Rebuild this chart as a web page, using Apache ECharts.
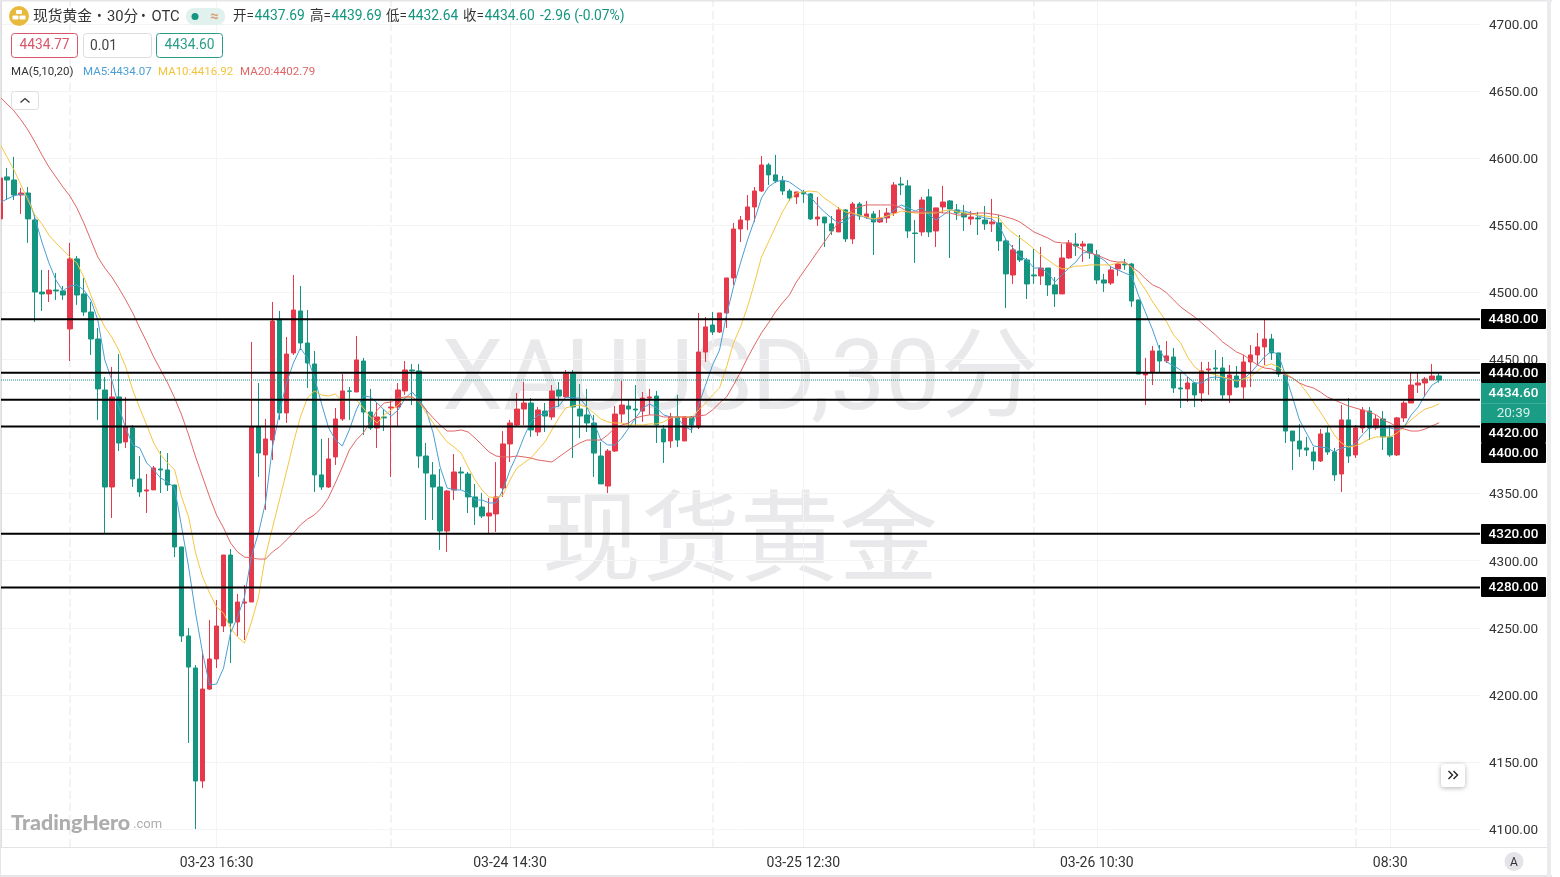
<!DOCTYPE html>
<html>
<head>
<meta charset="utf-8">
<title>现货黄金 30分</title>
<style>
  html, body { margin: 0; padding: 0; background: #fff; }
  #main { width: 1560px; height: 877px; }
</style>
<script src="https://cdn.jsdelivr.net/npm/echarts@6/dist/echarts.min.js"></script>
</head>
<body>
<div id="main"></div>
<script>
// [open, close, low, high]
const candles = [
  [4554.7,4585.2,4554.7,4585.2],[4586.0,4583.7,4568.8,4592.7],[4583.7,4572.5,4568.8,4600.9],[4572.5,4574.0,4558.4,4577.8],
  [4574.0,4554.7,4536.8,4578.5],[4553.9,4500.2,4477.9,4557.6],[4500.2,4498.8,4486.1,4516.7],[4498.8,4501.7,4492.8,4516.7],
  [4501.7,4501.0,4494.3,4514.4],[4501.0,4498.0,4494.3,4504.7],[4472.7,4524.9,4448.8,4536.8],[4524.9,4498.0,4490.6,4527.1],
  [4498.8,4485.3,4482.4,4510.7],[4485.3,4465.2,4453.3,4492.8],[4465.2,4428.0,4404.9,4473.4],[4427.2,4354.9,4320.6,4436.9],
  [4354.9,4422.0,4331.8,4444.4],[4422.0,4387.7,4381.7,4454.0],[4388.5,4399.6,4384.0,4422.0],[4398.9,4360.9,4354.9,4401.1],
  [4360.9,4351.2,4347.5,4378.0],[4351.9,4352.7,4335.5,4364.6],[4352.7,4369.1,4352.7,4370.6],[4368.3,4367.6,4350.4,4381.7],
  [4367.6,4356.4,4351.9,4380.2],[4356.4,4310.2,4302.7,4356.4],[4310.2,4243.9,4239.4,4310.2],[4243.9,4220.7,4164.1,4249.8],
  [4220.0,4135.8,4100.0,4222.2],[4135.8,4204.3,4130.6,4232.7],[4204.3,4226.7,4203.6,4255.8],[4226.7,4251.3,4220.0,4270.7],
  [4251.3,4304.2,4246.8,4304.2],[4304.2,4253.5,4223.7,4308.7],[4254.3,4269.2,4243.9,4275.2],[4268.4,4269.2,4240.9,4281.9],
  [4269.2,4399.6,4269.2,4463.0],[4399.6,4380.2,4362.4,4432.4],[4378.8,4390.7,4337.8,4405.6],[4389.9,4478.6,4375.0,4492.8],
  [4480.1,4410.1,4404.9,4486.1],[4410.1,4454.0,4402.6,4466.7],[4454.8,4486.8,4453.3,4512.9],[4486.1,4462.2,4457.0,4504.7],
  [4462.2,4447.3,4428.7,4486.8],[4446.6,4363.9,4351.2,4456.3],[4363.9,4354.9,4352.7,4390.7],[4354.9,4375.8,4354.2,4391.4],
  [4377.3,4405.6,4371.3,4413.8],[4405.6,4426.5,4404.1,4439.1],[4426.5,4426.2,4404.9,4429.4],[4425.7,4449.6,4425.7,4467.5],
  [4448.8,4410.8,4393.7,4451.1],[4410.8,4398.9,4397.4,4428.0],[4398.9,4407.1,4384.0,4417.5],[4407.1,4406.4,4396.6,4413.0],
  [4413.8,4414.5,4362.4,4419.0],[4414.5,4427.2,4399.6,4432.4],[4426.5,4442.1,4423.5,4448.8],[4442.1,4441.4,4416.0,4446.6],
  [4441.4,4378.0,4369.1,4446.6],[4378.0,4365.3,4330.3,4387.7],[4363.9,4354.9,4330.3,4373.5],[4354.9,4322.1,4308.0,4368.3],
  [4322.1,4351.9,4306.5,4352.7],[4352.7,4366.1,4345.2,4379.5],[4366.1,4365.3,4352.7,4369.8],[4364.6,4347.5,4335.5,4366.1],
  [4347.5,4340.0,4326.6,4357.2],[4340.0,4333.3,4331.8,4350.4],[4333.3,4335.5,4320.6,4346.7],[4334.8,4347.5,4321.4,4373.5],
  [4354.2,4387.0,4347.5,4396.6],[4387.0,4402.6,4373.5,4404.9],[4401.1,4413.0,4399.6,4425.0],[4413.0,4417.5,4401.1,4433.2],
  [4417.5,4397.4,4392.2,4421.2],[4395.9,4412.3,4392.9,4414.5],[4411.5,4407.8,4395.9,4417.5],[4407.1,4426.5,4404.9,4430.9],
  [4427.2,4422.7,4414.5,4433.2],[4422.0,4439.1,4421.2,4442.1],[4439.1,4414.5,4376.5,4442.1],[4413.0,4407.8,4391.4,4431.7],
  [4408.6,4402.6,4395.9,4428.0],[4402.6,4380.2,4362.4,4408.6],[4378.0,4357.2,4357.2,4388.5],[4355.6,4381.7,4350.4,4383.2],
  [4381.7,4409.3,4381.0,4415.3],[4409.3,4416.0,4402.6,4433.9],[4415.3,4413.0,4399.6,4419.8],[4413.0,4412.3,4401.1,4430.9],
  [4411.5,4421.2,4403.4,4425.7],[4421.2,4422.0,4408.6,4428.0],[4422.7,4401.1,4387.7,4426.5],[4398.1,4388.5,4372.8,4401.1],
  [4389.2,4407.1,4384.0,4410.1],[4407.1,4389.9,4384.7,4423.5],[4389.2,4407.1,4389.2,4407.8],[4407.1,4401.1,4395.2,4407.8],
  [4399.6,4455.5,4398.1,4484.6],[4455.5,4474.2,4448.1,4481.6],[4475.6,4470.4,4468.2,4485.3],[4470.4,4484.6,4469.7,4484.6],
  [4484.6,4510.7,4473.4,4510.7],[4510.7,4547.2,4505.5,4551.7],[4547.2,4553.9,4537.5,4556.9],[4553.9,4563.6,4546.5,4572.5],
  [4563.6,4575.5,4552.4,4578.5],[4575.5,4594.9,4574.8,4601.6],[4594.9,4587.5,4580.0,4596.4],[4587.5,4583.0,4581.5,4602.4],
  [4583.0,4575.5,4572.5,4586.7],[4575.5,4570.3,4568.1,4577.0],[4571.1,4574.8,4565.8,4574.8],[4574.8,4573.3,4566.6,4576.3],
  [4573.3,4554.7,4553.9,4574.0],[4554.7,4556.1,4549.5,4571.1],[4556.1,4551.7,4533.8,4556.1],[4551.0,4545.7,4542.7,4556.9],
  [4545.0,4561.4,4545.0,4563.6],[4561.4,4539.8,4537.5,4562.1],[4539.8,4565.8,4536.0,4567.3],[4565.8,4556.9,4553.9,4567.3],
  [4556.1,4558.4,4554.7,4568.1],[4558.4,4552.4,4527.8,4560.6],[4552.4,4555.4,4551.7,4561.4],[4555.4,4559.1,4551.7,4562.9],
  [4559.1,4580.0,4556.9,4582.2],[4580.7,4580.0,4572.5,4586.0],[4579.3,4545.7,4540.5,4583.7],[4544.2,4543.8,4521.9,4553.9],
  [4545.0,4568.8,4542.0,4571.1],[4571.1,4545.0,4541.2,4577.0],[4545.7,4562.9,4533.8,4562.9],[4563.6,4567.3,4559.1,4579.3],
  [4568.1,4562.1,4525.6,4568.8],[4561.4,4559.1,4553.9,4565.8],[4559.1,4556.1,4545.7,4565.1],[4554.7,4556.1,4550.2,4560.6],
  [4555.4,4554.7,4542.7,4559.9],[4553.9,4551.0,4546.5,4564.3],[4551.0,4552.4,4545.0,4569.6],[4551.7,4538.3,4530.8,4557.6],
  [4538.3,4513.7,4488.3,4540.5],[4512.9,4531.6,4506.2,4535.3],[4530.8,4524.1,4522.6,4542.7],[4524.1,4506.2,4495.0,4525.6],
  [4512.9,4512.2,4506.2,4532.3],[4512.2,4518.1,4505.5,4533.8],[4518.1,4505.5,4497.3,4518.1],[4505.5,4498.8,4489.1,4511.4],
  [4498.8,4525.6,4498.8,4536.0],[4525.6,4536.8,4524.9,4539.0],[4536.0,4534.5,4527.1,4544.2],[4534.5,4536.0,4522.6,4538.3],
  [4536.0,4529.3,4524.9,4536.0],[4527.8,4509.2,4506.2,4531.6],[4509.2,4506.9,4500.2,4513.7],[4506.9,4516.7,4505.5,4519.6],
  [4517.4,4521.1,4512.2,4521.9],[4521.1,4520.4,4516.7,4524.9],[4521.1,4493.5,4489.1,4521.9],[4494.3,4439.1,4439.1,4494.3],
  [4438.4,4439.9,4416.0,4451.1],[4440.6,4456.3,4430.9,4460.0],[4456.3,4448.8,4439.9,4460.7],[4448.8,4452.6,4447.3,4463.7],
  [4451.8,4428.7,4425.0,4458.5],[4428.7,4428.0,4413.8,4439.9],[4428.0,4432.4,4418.3,4436.9],[4432.4,4423.5,4414.5,4433.2],
  [4425.0,4441.4,4418.3,4448.1],[4442.1,4442.9,4423.5,4448.1],[4443.6,4442.9,4434.7,4457.0],[4443.6,4423.5,4419.8,4451.8],
  [4423.5,4438.4,4417.5,4445.8],[4437.6,4429.4,4428.7,4445.1],[4429.4,4448.1,4420.5,4453.3],[4448.1,4453.3,4429.4,4460.7],
  [4453.3,4459.3,4445.8,4469.7],[4459.3,4465.2,4445.8,4479.4],[4465.2,4454.8,4449.6,4469.0],[4454.8,4439.1,4436.9,4454.8],
  [4438.4,4396.6,4387.7,4438.4],[4396.6,4389.2,4367.6,4396.6],[4389.2,4383.2,4377.3,4401.9],[4384.0,4382.5,4378.0,4392.2],
  [4381.0,4374.3,4367.6,4384.7],[4374.3,4394.4,4373.5,4398.1],[4395.2,4381.0,4378.8,4399.6],[4381.0,4363.9,4359.4,4384.0],
  [4364.6,4404.9,4351.2,4416.0],[4404.9,4378.0,4372.8,4421.2],[4378.8,4398.9,4376.5,4401.1],[4398.9,4412.3,4395.2,4414.5],
  [4411.5,4398.9,4389.9,4414.5],[4398.9,4405.6,4397.4,4408.6],[4405.6,4392.2,4382.5,4411.5],[4392.2,4378.8,4377.3,4401.1],
  [4378.8,4406.4,4378.0,4407.1],[4406.4,4417.5,4403.4,4419.0],[4417.5,4430.9,4417.5,4439.9],[4430.9,4432.4,4425.0,4439.9],
  [4432.4,4435.4,4422.0,4436.9],[4434.7,4437.6,4434.7,4446.6],[4437.69,4434.60,4432.64,4439.69]
];

const ma5 = [
  4566.6,4569.6,4571.8,4573.3,4571.8,4555.4,4537.5,4521.9,4509.2,4501.0,4504.7,4505.5,4501.7,4494.3,4479.4,4449.6,
  4434.7,4414.5,4398.9,4386.2,4384.0,4372.8,4367.6,4361.6,4358.6,4354.2,4325.1,4295.3,4261.0,4231.2,4207.3,4208.1,
  4220.0,4246.1,4258.0,4272.9,4303.5,4320.6,4343.0,4384.7,4410.1,4432.4,4447.3,4458.5,4451.1,4436.9,4417.5,4399.6,
  4389.9,4385.5,4397.4,4412.3,4422.7,4422.0,4417.5,4412.3,4407.8,4412.3,4421.2,4425.7,4419.8,4412.3,4395.2,4369.8,
  4354.2,4352.7,4352.7,4350.4,4345.2,4345.2,4343.0,4343.0,4352.7,4367.6,4378.8,4392.2,4403.4,4408.6,4409.3,4413.8,
  4415.3,4422.0,4421.2,4421.2,4414.5,4403.4,4389.9,4386.2,4386.2,4391.4,4398.9,4406.4,4413.8,4416.8,4413.8,4408.6,
  4407.1,4406.4,4399.6,4397.4,4416.0,4430.9,4445.8,4457.0,4483.1,4504.0,4521.9,4539.0,4553.9,4570.3,4578.5,4582.2,
  4583.7,4582.2,4578.5,4574.8,4571.1,4565.1,4559.9,4555.4,4551.7,4552.4,4557.6,4557.6,4555.4,4553.9,4553.9,4556.9,
  4561.4,4565.1,4562.9,4560.6,4562.9,4557.6,4553.9,4557.6,4561.4,4560.6,4560.6,4559.1,4556.9,4555.4,4554.7,4550.2,
  4539.0,4533.0,4526.3,4524.1,4518.1,4518.1,4514.4,4507.7,4512.9,4518.1,4522.6,4529.3,4530.1,4527.1,4524.1,4518.9,
  4516.7,4514.4,4512.2,4497.3,4484.6,4471.9,4457.0,4448.1,4445.1,4442.1,4436.9,4432.4,4432.4,4436.1,4436.9,4436.1,
  4435.4,4434.7,4435.4,4439.9,4445.8,4451.8,4456.3,4453.3,4438.4,4422.0,4404.9,4395.2,4385.5,4384.7,4384.0,4381.0,
  4384.0,4384.7,4387.0,4393.7,4398.9,4399.6,4398.9,4398.9,4397.4,4399.6,4408.6,4414.5,4423.5,4430.9,4434.07
];

const ma10 = [
  4610.6,4600.9,4591.2,4580.0,4568.8,4557.6,4551.0,4542.7,4536.8,4531.6,4526.3,4521.9,4511.4,4498.0,4484.6,4474.2,
  4466.7,4457.0,4444.4,4427.2,4413.8,4401.1,4387.7,4378.8,4372.8,4367.6,4347.5,4332.5,4305.7,4287.8,4275.9,4265.5,
  4261.0,4249.8,4243.1,4238.6,4254.3,4272.9,4303.5,4324.4,4345.2,4366.1,4387.7,4407.1,4421.2,4426.5,4423.5,4422.7,
  4424.2,4419.0,4420.5,4419.8,4413.8,4407.1,4402.6,4408.6,4412.3,4416.0,4422.0,4422.0,4418.3,4410.1,4402.6,4395.2,
  4388.5,4384.7,4380.2,4369.8,4360.1,4352.7,4347.5,4346.7,4348.9,4360.1,4369.1,4372.8,4376.5,4382.5,4388.5,4397.4,
  4406.4,4413.8,4415.3,4416.0,4414.5,4410.1,4405.6,4403.4,4402.6,4402.6,4401.1,4401.1,4401.1,4401.9,4401.9,4403.4,
  4406.4,4407.1,4407.1,4406.4,4412.3,4417.5,4423.5,4428.7,4444.4,4462.2,4474.2,4489.1,4506.9,4526.3,4537.5,4548.7,
  4559.9,4568.8,4574.0,4574.8,4575.5,4574.8,4570.3,4566.6,4562.9,4559.9,4559.1,4557.6,4556.1,4554.7,4555.4,4556.9,
  4558.4,4560.6,4559.9,4559.1,4559.1,4559.1,4559.1,4560.6,4561.4,4559.9,4559.1,4558.4,4557.6,4556.9,4556.1,4555.4,
  4548.7,4544.2,4540.5,4536.8,4532.3,4527.8,4524.1,4520.4,4517.4,4518.1,4519.6,4519.6,4520.4,4520.4,4520.4,4520.4,
  4521.9,4521.9,4518.9,4509.2,4501.7,4492.8,4485.3,4477.9,4468.2,4462.2,4451.8,4444.4,4440.6,4439.9,4438.4,4436.9,
  4435.4,4433.9,4435.4,4436.9,4441.4,4445.1,4446.6,4444.4,4439.9,4436.1,4432.4,4425.7,4418.3,4410.8,4402.6,4393.7,
  4387.7,4384.7,4385.5,4387.7,4390.7,4392.2,4392.2,4392.2,4395.2,4399.6,4404.9,4409.3,4413.0,4414.5,4416.92
];

const ma20 = [
  4645.6,4640.4,4635.2,4628.5,4621.0,4612.0,4602.4,4593.4,4586.0,4578.5,4571.8,4562.9,4551.7,4539.0,4526.3,4518.1,
  4511.4,4503.2,4494.3,4484.6,4473.4,4463.0,4451.8,4442.1,4432.4,4421.2,4408.6,4393.7,4377.3,4362.4,4347.5,4334.0,
  4324.4,4313.2,4306.5,4302.7,4302.0,4301.2,4301.2,4306.5,4310.2,4315.4,4320.6,4326.6,4331.0,4334.0,4339.3,4346.7,
  4357.9,4369.8,4382.5,4389.9,4395.2,4403.4,4412.3,4417.5,4418.3,4421.2,4422.0,4422.0,4418.3,4412.3,4406.4,4401.1,
  4396.6,4396.6,4397.4,4395.9,4391.4,4386.2,4381.0,4378.0,4377.3,4377.3,4378.0,4377.3,4376.5,4375.0,4374.3,4373.5,
  4377.3,4381.0,4384.7,4387.7,4389.9,4389.9,4389.9,4393.7,4398.9,4401.1,4402.6,4406.4,4407.8,4408.6,4408.6,4407.1,
  4407.1,4407.1,4407.1,4407.1,4407.8,4408.6,4412.3,4417.5,4422.0,4430.9,4440.6,4451.1,4460.7,4469.7,4477.2,4485.3,
  4492.1,4498.0,4507.7,4515.2,4522.6,4530.1,4537.5,4545.0,4551.7,4556.1,4561.4,4563.6,4565.1,4565.1,4565.1,4565.1,
  4565.1,4562.9,4559.9,4559.9,4559.9,4559.9,4559.9,4559.1,4559.1,4557.6,4557.6,4558.4,4559.1,4559.1,4558.4,4557.6,
  4556.1,4554.7,4552.4,4548.7,4545.0,4542.7,4540.5,4537.5,4536.8,4536.8,4534.5,4531.6,4529.3,4527.8,4525.6,4523.4,
  4522.6,4522.6,4518.9,4515.2,4509.9,4505.5,4503.2,4499.5,4494.3,4489.1,4485.3,4481.6,4477.2,4472.7,4468.2,4463.0,
  4459.3,4455.5,4453.3,4449.6,4445.8,4443.6,4442.9,4440.6,4438.4,4436.1,4432.4,4430.2,4428.7,4425.7,4422.0,4419.8,
  4417.5,4415.3,4413.8,4412.3,4410.8,4408.6,4404.9,4402.6,4399.6,4398.1,4396.6,4396.6,4398.1,4400.4,4402.79
];

const yTicks = [4100, 4150, 4200, 4250, 4300, 4350, 4400, 4450, 4500, 4550, 4600, 4650, 4700];
const xTickIndex = [31, 73, 115, 157, 199];
const xTickLabels = ["03-23 16:30", "03-24 14:30", "03-25 12:30", "03-26 10:30", "08:30"];
const sessionIndex = [10, 56, 102, 148, 194];
const levels = [4480, 4440, 4420, 4400, 4320, 4280];
const lastPrice = 4434.6;

const barCount = 212;
const categories = [];
for (let i = 0; i < barCount; i++) {
  const k = xTickIndex.indexOf(i);
  categories.push(k >= 0 ? xTickLabels[k] : "");
}

const UP = "#e5394b";
const DOWN = "#14957f";
const FONT = "Roboto, 'Noto Sans CJK SC', sans-serif";

// 画布上的文字
function txt(x, y, text, fill, size, extra) {
  return {
    type: "text",
    z: 100,
    silent: true,
    style: Object.assign(
      { x: x, y: y, text: text, fill: fill, font: size + "px " + FONT, textAlign: "left", textVerticalAlign: "middle" },
      extra || {}
    ),
  };
}
function box(x, y, w, h, r, fill, stroke, z) {
  return {
    type: "rect",
    z: z === undefined ? 99 : z,
    silent: true,
    shape: { x: x, y: y, width: w, height: h, r: r },
    style: { fill: fill, stroke: stroke || null, lineWidth: stroke ? 1 : 0 },
  };
}
function poly(points, color, width) {
  return {
    type: "polyline",
    z: 101,
    silent: true,
    shape: { points: points },
    style: { fill: null, stroke: color, lineWidth: width },
  };
}

const tagY = { 4480: 319, 4440: 373, 4420: 433, 4400: 453, 4320: 534, 4280: 587 };
const tags = [];
levels.forEach((l) => {
  tags.push(box(1481, tagY[l] - 10, 65, 20, 1, "#000"));
  tags.push(txt(1513.5, tagY[l] + 1, l.toFixed(2), "#fff", 13.5, { textAlign: "center", font: "500 13.5px " + FONT }));
});

const markRows = [
  // 水印
  Object.assign(txt(740, 384, "XAUUSD,30分", "#e9e9eb", 98, { textAlign: "center" }), { z: 0 }),
  Object.assign(txt(740, 535, "现货黄金", "#e9e9eb", 99, { textAlign: "center", font: "99px 'Noto Sans CJK SC'" }), { z: 0 }),
];

const overlay = [
  ...markRows,

  // 外框
  box(0, 0, 1552, 1.5, 0, "#e6e6e8", null, 98),
  box(0, 0, 1, 877, 0, "#e6e6e8", null, 98),
  box(0, 875, 1552, 2, 0, "#e6e6e8", null, 98),
  box(1547, 0, 4, 877, 0, "#ebebed", null, 98),
  box(0, 847, 1547, 1, 0, "#e3e3e5", null, 98),

  // 标题行
  { type: "circle", z: 100, silent: true, shape: { cx: 19, cy: 16, r: 10 }, style: { fill: "#e9b93d" } },
  box(16, 10, 6, 4, 1, "#fff", null, 101),
  box(12.5, 15.5, 6, 4, 1, "#fff", null, 101),
  box(19.5, 15.5, 6, 4, 1, "#fff", null, 101),
  txt(33, 17, "现货黄金", "#333", 14.75),
  txt(97, 17, "•", "#333", 14),
  txt(107, 17, "30分", "#333", 14.75),
  txt(141, 17, "•", "#333", 14),
  txt(151.5, 17, "OTC", "#333", 14.75),
  box(186, 8, 39, 17, 8, "#e0f1ee"),
  { type: "circle", z: 100, silent: true, shape: { cx: 195, cy: 16.5, r: 3.5 }, style: { fill: DOWN } },
  txt(210, 17, "≈", "#dd9f77", 15, { font: "bold 15px " + FONT }),
  txt(233, 17, "开=", "#333", 13.5), txt(254.5, 17, "4437.69", DOWN, 13.8),
  txt(310, 17, "高=", "#333", 13.5), txt(331.5, 17, "4439.69", DOWN, 13.8),
  txt(386, 17, "低=", "#333", 13.5), txt(408, 17, "4432.64", DOWN, 13.8),
  txt(463, 17, "收=", "#333", 13.5), txt(484.5, 17, "4434.60", DOWN, 13.8),
  txt(540, 17, "-2.96 (-0.07%)", DOWN, 13.8),

  // 买卖价
  box(11.5, 33.5, 66, 24, 3, "#fff", "#d9566a"),
  txt(44.5, 46, "4434.77", "#d9566a", 13.8, { textAlign: "center" }),
  box(83.5, 33.5, 68, 24, 3, "#fff", "#dcdcdc"),
  txt(90, 46.5, "0.01", "#444", 13.8),
  box(156.5, 33.5, 66, 24, 3, "#fff", "#2a9d8a"),
  txt(189.5, 46, "4434.60", "#2a9d8a", 13.8, { textAlign: "center" }),

  // 均线读数
  txt(11, 72, "MA(5,10,20)", "#333", 11.5),
  txt(83, 72, "MA5:4434.07", "#4a9fd4", 11.5),
  txt(158, 72, "MA10:4416.92", "#f2c33c", 11.5),
  txt(240, 72, "MA20:4402.79", "#e06666", 11.5),

  // 折叠按钮
  box(11.5, 91.5, 27, 18, 3, "#fff", "#dedede"),
  poly([[20.5, 102.5], [25, 98.5], [29.5, 102.5]], "#333", 1.3),

  // TradingHero
  txt(11, 823, "TradingHero", "#adadad", 21, { font: "900 21.5px Lato, " + FONT }),
  txt(133, 825, ".com", "#adadad", 13),

  // 右下按钮
  Object.assign(box(1441, 764, 24, 23, 3, "#fff"), {
    style: { fill: "#fff", shadowBlur: 5, shadowColor: "rgba(0,0,0,0.3)", shadowOffsetY: 1 },
  }),
  poly([[1448.5, 771], [1452.5, 775], [1448.5, 779]], "#222", 1.4),
  poly([[1453.5, 771], [1457.5, 775], [1453.5, 779]], "#222", 1.4),
  { type: "circle", z: 100, silent: true, shape: { cx: 1514, cy: 861.5, r: 9.5 }, style: { fill: "#e4e4e8" } },
  txt(1514, 862.5, "A", "#333", 12, { textAlign: "center" }),

  // 价格标签
  ...tags,
  box(1481, 383, 65, 40, 0, "#1b9c85"),
  box(1481, 403, 65, 1, 0, "#3aae99", null, 100),
  txt(1513.5, 394, "4434.60", "#fff", 13.5, { textAlign: "center", font: "500 13.5px " + FONT }),
  txt(1513.5, 414, "20:39", "#d5f0ea", 13.5, { textAlign: "center" }),
];

const chart = echarts.init(document.getElementById("main"), null, { renderer: "canvas" });

const lineSeries = (name, data, color) => ({
  name: name,
  type: "line",
  data: data,
  xAxisIndex: 0,
  yAxisIndex: 0,
  showSymbol: false,
  silent: true,
  z: 4,
  lineStyle: { color: color, width: 1 },
});

// 水平线放在第二个 grid，宽度到价格轴为止
const levelSeries = levels.map((l) => ({
  type: "line",
  xAxisIndex: 1,
  yAxisIndex: 1,
  data: [[0, l], [1, l]],
  showSymbol: false,
  silent: true,
  z: 6,
  lineStyle: { color: "#000", width: 2 },
}));

chart.setOption({
  animation: false,
  backgroundColor: "#fff",
  tooltip: { show: false },
  graphic: { elements: overlay },
  grid: [
    { left: 0, width: 6.986 * (barCount - 1), top: 1, bottom: 30 },
    { left: 1, right: 80, top: 1, bottom: 30 },
  ],
  xAxis: [
    {
      type: "category",
      gridIndex: 0,
      data: categories,
      boundaryGap: false,
      axisLine: { show: false },
      axisTick: { show: false },
      splitLine: { show: false },
      axisLabel: {
        interval: (i) => xTickIndex.includes(i),
        color: "#333",
        fontSize: 14,
        fontFamily: FONT,
        margin: 9,
      },
    },
    { type: "value", gridIndex: 1, min: 0, max: 1, show: false },
  ],
  yAxis: [
    { type: "value", gridIndex: 0, min: 4086.6, max: 4717.1, show: false },
    {
      type: "value",
      gridIndex: 1,
      position: "right",
      min: 4086.6,
      max: 4717.1,
      axisLine: { show: true, lineStyle: { color: "#dedee0" } },
      axisTick: { show: false, customValues: yTicks },
      splitLine: { show: true, lineStyle: { color: "#f4f4f5" } },
      axisLabel: {
        customValues: yTicks,
        color: "#333",
        fontSize: 13.5,
        fontFamily: FONT,
        margin: 9,
        verticalAlign: "top",
        lineHeight: 3,
        formatter: (v) => v.toFixed(2),
      },
    },
  ],
  series: [
    {
      type: "line",
      xAxisIndex: 0,
      yAxisIndex: 0,
      data: [],
      silent: true,
      z: 1,
      markLine: {
        silent: true,
        z: 1,
        symbol: "none",
        label: { show: false },
        animation: false,
        data: [
          ...xTickIndex.map((i) => ({ xAxis: i, lineStyle: { color: "#f4f4f5", width: 1, type: "solid" } })),
          ...sessionIndex.map((i) => ({ xAxis: i, lineStyle: { color: "#f3f3f5", width: 2, type: "dashed" } })),
        ],
      },
    },
    {
      name: "K",
      type: "candlestick",
      xAxisIndex: 0,
      yAxisIndex: 0,
      data: candles,
      barWidth: 5,
      silent: true,
      z: 3,
      itemStyle: { color: UP, color0: DOWN, borderColor: UP, borderColor0: DOWN, borderWidth: 1 },
    },
    lineSeries("MA5", ma5, "#4a9fd4"),
    lineSeries("MA10", ma10, "#f5c542"),
    lineSeries("MA20", ma20, "#e06666"),
    ...levelSeries,
    {
      type: "line",
      xAxisIndex: 1,
      yAxisIndex: 1,
      data: [[0, lastPrice], [1, lastPrice]],
      showSymbol: false,
      silent: true,
      z: 5,
      lineStyle: { color: DOWN, width: 1, type: "dotted" },
    },
  ],
});
</script>
</body>
</html>
